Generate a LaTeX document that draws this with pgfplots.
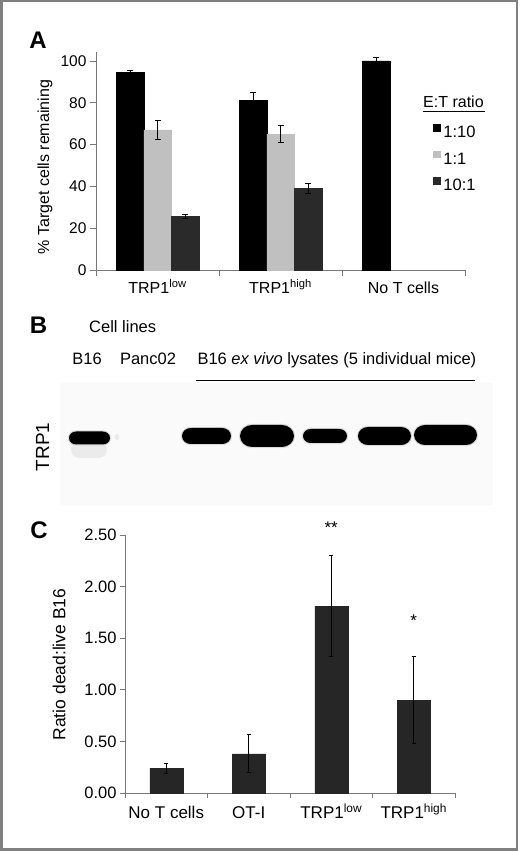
\documentclass[border=0pt]{standalone}
\usepackage{pgfplots}
\pgfplotsset{compat=1.18}
\usepackage{fontspec}
\setmainfont{Liberation Sans}
\definecolor{axgray}{RGB}{120,120,120}
\definecolor{barblack}{RGB}{0,0,0}
\definecolor{barlight}{RGB}{192,192,192}
\definecolor{bardark}{RGB}{42,42,42}
\definecolor{barC}{RGB}{38,38,38}
\definecolor{framegray}{RGB}{128,128,128}
\pgfdeclareplotmark{band}{%
  \pgfmathsetmacro\rr{min(1.1*\bh,\bw)}%
  \pgfpathmoveto{\pgfpoint{-\bw pt+\rr pt}{-\bh pt}}%
  \pgfpathlineto{\pgfpoint{\bw pt-\rr pt}{-\bh pt}}%
  \pgfpatharc{-90}{90}{\rr pt and \bh pt}%
  \pgfpathlineto{\pgfpoint{-\bw pt+\rr pt}{\bh pt}}%
  \pgfpatharc{90}{270}{\rr pt and \bh pt}%
  \pgfpathclose
  \pgfusepathqfill}
\begin{document}
\begin{tikzpicture}[x=1pt,y=1pt]
\useasboundingbox (0,0) rectangle (520,851);
\fill[white] (0,0) rectangle (520,851);
\draw[framegray, line width=2.5pt] (1.25,1.25) rectangle (517,849.75);

% ---------------- Panel A ----------------
\node[inner sep=0pt, font=\bfseries\fontsize{24}{28}\selectfont] at (38,810.5) {A};
\begin{axis}[
  at={(96pt,581pt)}, anchor=south west, scale only axis,
  width=369pt, height=218pt,
  xmin=-0.5, xmax=2.5, ymin=0, ymax=104.3,
  axis x line*=bottom, axis y line*=left,
  axis line style={axgray, line width=0.8pt, -},
  tick style={axgray, line width=0.8pt},
  tick align=outside, major tick length=6pt,
  ybar, bar width=27.5pt,
  xtick={-0.5,0.5,1.5,2.5}, xticklabels={},
  extra x ticks={0,1,2},
  extra x tick labels={TRP1\textsuperscript{low},TRP1\textsuperscript{high},No T cells},
  extra x tick style={major tick length=0pt},
  xticklabel style={anchor=base, yshift=-24pt, font=\fontsize{16}{19}\selectfont},
  ytick={0,20,...,100},
  yticklabel style={font=\fontsize{15.5}{18}\selectfont},
  /pgf/number format/assume math mode=true,
  ylabel={\% Target cells remaining},
  ylabel style={at={(axis description cs:-0.138,0.472)}, anchor=center, font=\fontsize{16}{19}\selectfont},
  error bars/y dir=both, error bars/y explicit,
  error bars/error bar style={draw=black, line width=0.8pt},
  error bars/error mark options={draw=black, line width=0.8pt, mark size=3pt, rotate=90},
  legend style={at={(axis description cs:0.9114,0.6697)}, anchor=north west,
    draw=none, fill=none, inner sep=0pt, row sep=13pt, column sep=3pt,
    nodes={inner sep=0pt, text height=11.5pt, text depth=0pt},
    font=\fontsize{16.5}{19}\selectfont},
  legend cell align=left,
  clip=false,
]
\addplot[fill=barblack, draw=barblack, bar shift=-27.5pt, forget plot]
  coordinates {(0,94.5) +- (0,1.2) (1,81) +- (0,4) (2,100) +- (0,1.5)};
\addplot[fill=barlight, draw=barlight, bar shift=0pt, forget plot]
  coordinates {(0,67) +- (0,4.5) (1,65) +- (0,4)};
\addplot[fill=bardark, draw=bardark, bar shift=27.5pt, forget plot]
  coordinates {(0,25.5) +- (0,1) (1,39) +- (0,2.5)};
\addlegendimage{legend image code/.code={\fill[barblack] (0pt,1pt) rectangle (7.5pt,7.5pt);}}
\addlegendentry{1:10}
\addlegendimage{legend image code/.code={\fill[barlight] (0pt,1pt) rectangle (7.5pt,7.5pt);}}
\addlegendentry{1:1}
\addlegendimage{legend image code/.code={\fill[bardark] (0pt,1pt) rectangle (7.5pt,7.5pt);}}
\addlegendentry{10:1}
\end{axis}
\node[anchor=base west, inner sep=0pt, font=\fontsize{16}{19}\selectfont] at (423,743) {E:T ratio};
\draw[line width=1pt] (423,739) -- (485,739);

% ---------------- Panel B ----------------
\node[inner sep=0pt, font=\bfseries\fontsize{24}{28}\selectfont] at (38.5,525.5) {B};
\node[anchor=base west, inner sep=0pt, font=\fontsize{16.5}{19}\selectfont] at (89,518) {Cell lines};
\node[anchor=base, inner sep=0pt, font=\fontsize{16.5}{19}\selectfont] at (87,486) {B16};
\node[anchor=base, inner sep=0pt, font=\fontsize{16.5}{19}\selectfont] at (148,486) {Panc02};
\node[anchor=base west, inner sep=0pt, font=\fontsize{16.5}{19}\selectfont] at (197.3,486) {B16 \textit{ex vivo} lysates (5 individual mice)};
\draw[line width=1.2pt] (196,470.3) -- (475,470.3);
\node[rotate=90, inner sep=0pt, font=\fontsize{19}{22}\selectfont] at (42.5,404) {TRP1};
\begin{axis}[
  at={(60pt,346pt)}, anchor=south west, scale only axis,
  width=433pt, height=122pt,
  xmin=60, xmax=493, ymin=383, ymax=505, y dir=reverse,
  axis lines=none, ticks=none, clip=false,
]
\addplot[fill=gray!4, draw=none] coordinates {(60,383) (493,383) (493,505) (60,505)} -- cycle;
% faint smear and halos
\addplot[only marks, mark=band, color=gray!16,
  visualization depends on={\thisrow{hw}\as\bw},
  visualization depends on={\thisrow{hh}\as\bh}]
  table {
cx cy hw hh
89 450 18 8
117 437 2.5 3
};
\addplot[only marks, mark=band, color=gray!28,
  visualization depends on={\thisrow{hw}+1.2\as\bw},
  visualization depends on={\thisrow{hh}+1.2\as\bh}]
  table {
cx cy hw hh
89.5 438 20.5 6.5
206.5 436 24.5 8
267 436 27 11
325 436 22 7
384.5 436 26.5 9
445.5 435 31.5 10
};
\addplot[only marks, mark=band, color=black,
  visualization depends on={\thisrow{hw}\as\bw},
  visualization depends on={\thisrow{hh}\as\bh}]
  table {
cx cy hw hh
89.5 438 20.5 6.5
206.5 436 24.5 8
267 436 27 11
325 436 22 7
384.5 436 26.5 9
445.5 435 31.5 10
};
\end{axis}

% ---------------- Panel C ----------------
\node[inner sep=0pt, font=\bfseries\fontsize{24}{28}\selectfont] at (39,321) {C};
\begin{axis}[
  at={(125pt,58pt)}, anchor=south west, scale only axis,
  width=330pt, height=258pt,
  xmin=-0.5, xmax=3.5, ymin=0, ymax=2.5,
  axis x line*=bottom, axis y line*=left,
  axis line style={axgray, line width=0.8pt, -},
  tick style={axgray, line width=0.8pt},
  tick align=outside, major tick length=5pt,
  ybar, bar width=33pt,
  xtick={-0.5,0.5,1.5,2.5,3.5}, xticklabels={},
  extra x ticks={0,1,2,3},
  extra x tick labels={No T cells,OT-I,TRP1\textsuperscript{low},TRP1\textsuperscript{high}},
  extra x tick style={major tick length=0pt},
  xticklabel style={anchor=base, yshift=-26pt, font=\fontsize{17}{20}\selectfont},
  ytick={0,0.5,1,1.5,2,2.5},
  yticklabel style={font=\fontsize{16.5}{19}\selectfont, /pgf/number format/.cd, fixed, fixed zerofill, precision=2},
  /pgf/number format/assume math mode=true,
  ylabel={Ratio dead:live B16},
  ylabel style={at={(axis description cs:-0.2,0.498)}, anchor=center, font=\fontsize{17.5}{20}\selectfont},
  error bars/y dir=both, error bars/y explicit,
  error bars/error bar style={draw=black, line width=0.8pt},
  error bars/error mark options={draw=black, line width=0.8pt, mark size=2.2pt, rotate=90},
  clip=false,
]
\addplot[fill=barC, draw=barC, bar shift=0pt]
  coordinates {(0,0.24) +- (0,0.05) (1,0.38) +- (0,0.185) (2,1.81) +- (0,0.49) (3,0.90) +- (0,0.42)};
\node[anchor=base, inner sep=0pt, font=\fontsize{17}{20}\selectfont] at (axis cs:2,2.515) {**};
\node[anchor=base, inner sep=0pt, font=\fontsize{17}{20}\selectfont] at (axis cs:3,1.618) {*};
\end{axis}
\end{tikzpicture}
\end{document}
